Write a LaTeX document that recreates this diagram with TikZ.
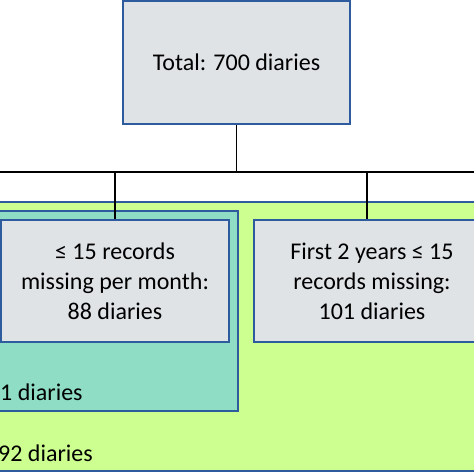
\documentclass[tikz,border=0pt]{standalone}
\usepackage{fontspec}
\setmainfont{Carlito}
\definecolor{bordblue}{HTML}{2E5A9E}
\definecolor{boxgray}{HTML}{DFE3E6}
\definecolor{outgreen}{HTML}{CCFF90}
\definecolor{inteal}{HTML}{8EDDC4}
\tikzset{
  graybox/.style={draw=bordblue, line width=2.6pt, fill=boxgray, inner sep=0pt,
    align=center, font=\fontsize{24}{30}\selectfont, text=black},
  region/.style={draw=bordblue, line width=2.2pt},
  conn/.style={draw=black, line width=1.6pt},
  lbl/.style={font=\fontsize{24}{30}\selectfont, text=black, inner sep=0pt, anchor=west}
}
\begin{document}
\begin{tikzpicture}[x=1pt,y=1pt]
\useasboundingbox (0,0) rectangle (474,474);
\begin{scope}
\clip (0,0) rectangle (474,474);
% outer green region
\draw[region, fill=outgreen] (-10,3) rectangle (490,272);
% inner teal region
\draw[region, fill=inteal] (-10,63) rectangle (238,263);
% boxes
\node[graybox, minimum width=227pt, minimum height=123pt] (top) at (236.5,411.5) {Total: 700 diaries};
\node[graybox, minimum width=228pt, minimum height=122pt] (b1) at (115,193) {≤ 15 records\\missing per month:\\88 diaries};
\node[graybox, minimum width=236pt, minimum height=122pt] (b2) at (372,193) {First 2 years ≤ 15\\records missing:\\101 diaries};
\node[lbl] (t1) at (0,82) {1 diaries};
\node[lbl] (t2) at (-2,21) {92 diaries};
% connectors
\coordinate (hl) at (-5,302);
\coordinate (hr) at (480,302);
\coordinate (mid) at (top.south |- hl);
\draw[conn] (top.south) -- (mid);
\draw[conn] (hl) -- (hr);
\draw[conn] (115,302) -- (b1.north -| 115,0);
\draw[conn] (367,302) -- (b2.north -| 367,0);
\end{scope}
\end{tikzpicture}
\end{document}
